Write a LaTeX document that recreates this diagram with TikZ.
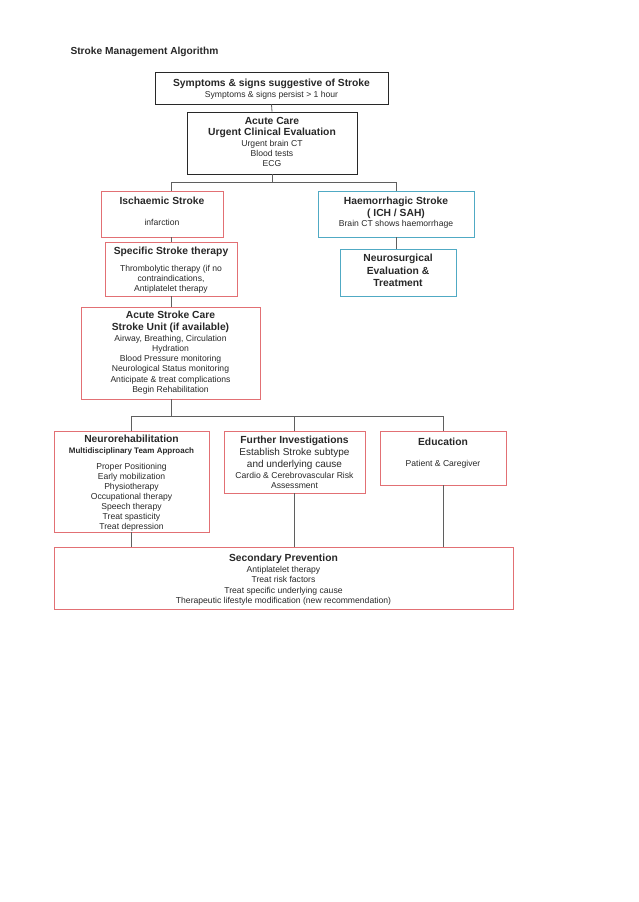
\documentclass[tikz,border=0pt]{standalone}
\usepackage{fontspec}
\setmainfont{Liberation Sans}
\usepackage{tikz}

\definecolor{redline}{RGB}{226,112,116}
\definecolor{tealline}{RGB}{80,170,196}
\definecolor{greyline}{RGB}{95,95,95}
\definecolor{inkgrey}{RGB}{40,40,40}

\newcommand{\boxhead}{\fontsize{10.3}{12.2}\selectfont\bfseries}
\newcommand{\subhead}{\fontsize{8}{10}\selectfont\bfseries}
\newcommand{\bigbody}{\fontsize{10}{12}\selectfont}

\tikzset{
  box/.style={draw=#1, line width=0.8pt, inner sep=0pt, align=center,
    text=inkgrey, font=\fontsize{8.6}{10.3}\selectfont},
  box/.default=inkgrey,
  lastrow/.style={text height=#1, text depth=0pt},
  link/.style={draw=greyline, line width=0.8pt}
}

\begin{document}
\begin{tikzpicture}[x=1pt, y=-1pt]
            \useasboundingbox (0,0) rectangle (638,902);
            \node[anchor=west, font=\fontsize{10.2}{12}\selectfont\bfseries, text=inkgrey] (title) at (67,51.5) {Stroke Management Algorithm};
            % Boxes
            \node[box, lastrow=19pt, minimum width=233pt, minimum height=32pt] (symptoms) at (271.5,88)
              {{\boxhead Symptoms \& signs suggestive of Stroke}\\[0.5pt]Symptoms \& signs persist > 1 hour};
            \node[box, lastrow=47.6pt, minimum width=170pt, minimum height=62pt] (acute) at (272,143)
              {{\boxhead Acute Care}\\[1.5pt]{\boxhead Urgent Clinical Evaluation}\\Urgent brain CT\\Blood tests\\ECG};
            \node[box=redline, lastrow=22.4pt, minimum width=122pt, minimum height=46pt] (ischaemic) at (162,214)
              {{\boxhead Ischaemic Stroke}\\[10.5pt]infarction};
            \node[box=tealline, lastrow=25.6pt, minimum width=156pt, minimum height=46pt] (haemorrhagic) at (396,214)
              {{\boxhead Haemorrhagic Stroke}\\[2pt]{\boxhead ( ICH / SAH)}\\Brain CT shows haemorrhage};
            \node[box=redline, lastrow=45.6pt, minimum width=132pt, minimum height=54pt] (specific) at (171,269)
              {{\boxhead Specific Stroke therapy}\\[6pt]Thrombolytic therapy (if no\\contraindications,\\Antiplatelet therapy};
            \node[box=tealline, lastrow=27.8pt, minimum width=116pt, minimum height=47pt] (neurosurgical) at (398,272.5)
              {{\boxhead Neurosurgical}\\[2pt]{\boxhead Evaluation \&}\\[2pt]{\boxhead Treatment}};
            \node[box=redline, lastrow=79pt, minimum width=179pt, minimum height=92pt] (strokeunit) at (170.5,353)
              {{\boxhead Acute Stroke Care}\\[2pt]{\boxhead Stroke Unit (if available)}\\Airway, Breathing, Circulation\\Hydration\\Blood Pressure monitoring\\Neurological Status monitoring\\Anticipate \& treat complications\\Begin Rehabilitation};
            \node[box=redline, lastrow=96pt, minimum width=155pt, minimum height=101pt] (neurorehab) at (131.5,481.5)
              {{\boxhead Neurorehabilitation}\\{\subhead Multidisciplinary Team Approach}\\[6pt]Proper Positioning\\[-0.3pt]Early mobilization\\[-0.3pt]Physiotherapy\\[-0.3pt]Occupational therapy\\[-0.3pt]Speech therapy\\[-0.3pt]Treat spasticity\\[-0.3pt]Treat depression};
            \node[box=redline, lastrow=53pt, minimum width=141pt, minimum height=62pt] (further) at (294.5,462)
              {{\boxhead Further Investigations}\\[1pt]{\bigbody Establish Stroke subtype}\\[2pt]{\bigbody and underlying cause}\\[0.5pt]Cardio \& Cerebrovascular Risk\\Assessment};
            \node[box=redline, lastrow=17pt, minimum width=126pt, minimum height=54pt] (education) at (443,458)
              {{\boxhead Education}\\[11pt]Patient \& Caregiver};
            \node[box=redline, lastrow=51pt, minimum width=459pt, minimum height=62pt] (secondary) at (283.5,578)
              {{\boxhead Secondary Prevention}\\[0.5pt]Antiplatelet therapy\\Treat risk factors\\Treat specific underlying cause\\Therapeutic lifestyle modification (new recommendation)};
            % Connectors
            \coordinate (spine) at (171,0);
            \draw[link] (symptoms.south) -- (acute.north);
            \draw[link] (acute.south) -- ++(0,8) coordinate (fork1);
            \draw[link] (ischaemic.north -| spine) |- (fork1) -| (haemorrhagic.north);
            \draw[link] (ischaemic.south -| spine) -- (specific.north -| spine);
            \draw[link] (haemorrhagic.south) -- (neurosurgical.north -| haemorrhagic.south);
            \draw[link] (specific.south -| spine) -- (strokeunit.north -| spine);
            \draw[link] (strokeunit.south -| spine) -- ++(0,17) coordinate (fork2);
            \draw[link] (neurorehab.north) |- (fork2) -| (education.north);
            \draw[link] (further.north) -- (further.north |- fork2);
            \draw[link] (neurorehab.south) -- (secondary.north -| neurorehab.south);
            \draw[link] (further.south) -- (secondary.north -| further.south);
            \draw[link] (education.south) -- (secondary.north -| education.south);
        \end{tikzpicture}
\end{document}
